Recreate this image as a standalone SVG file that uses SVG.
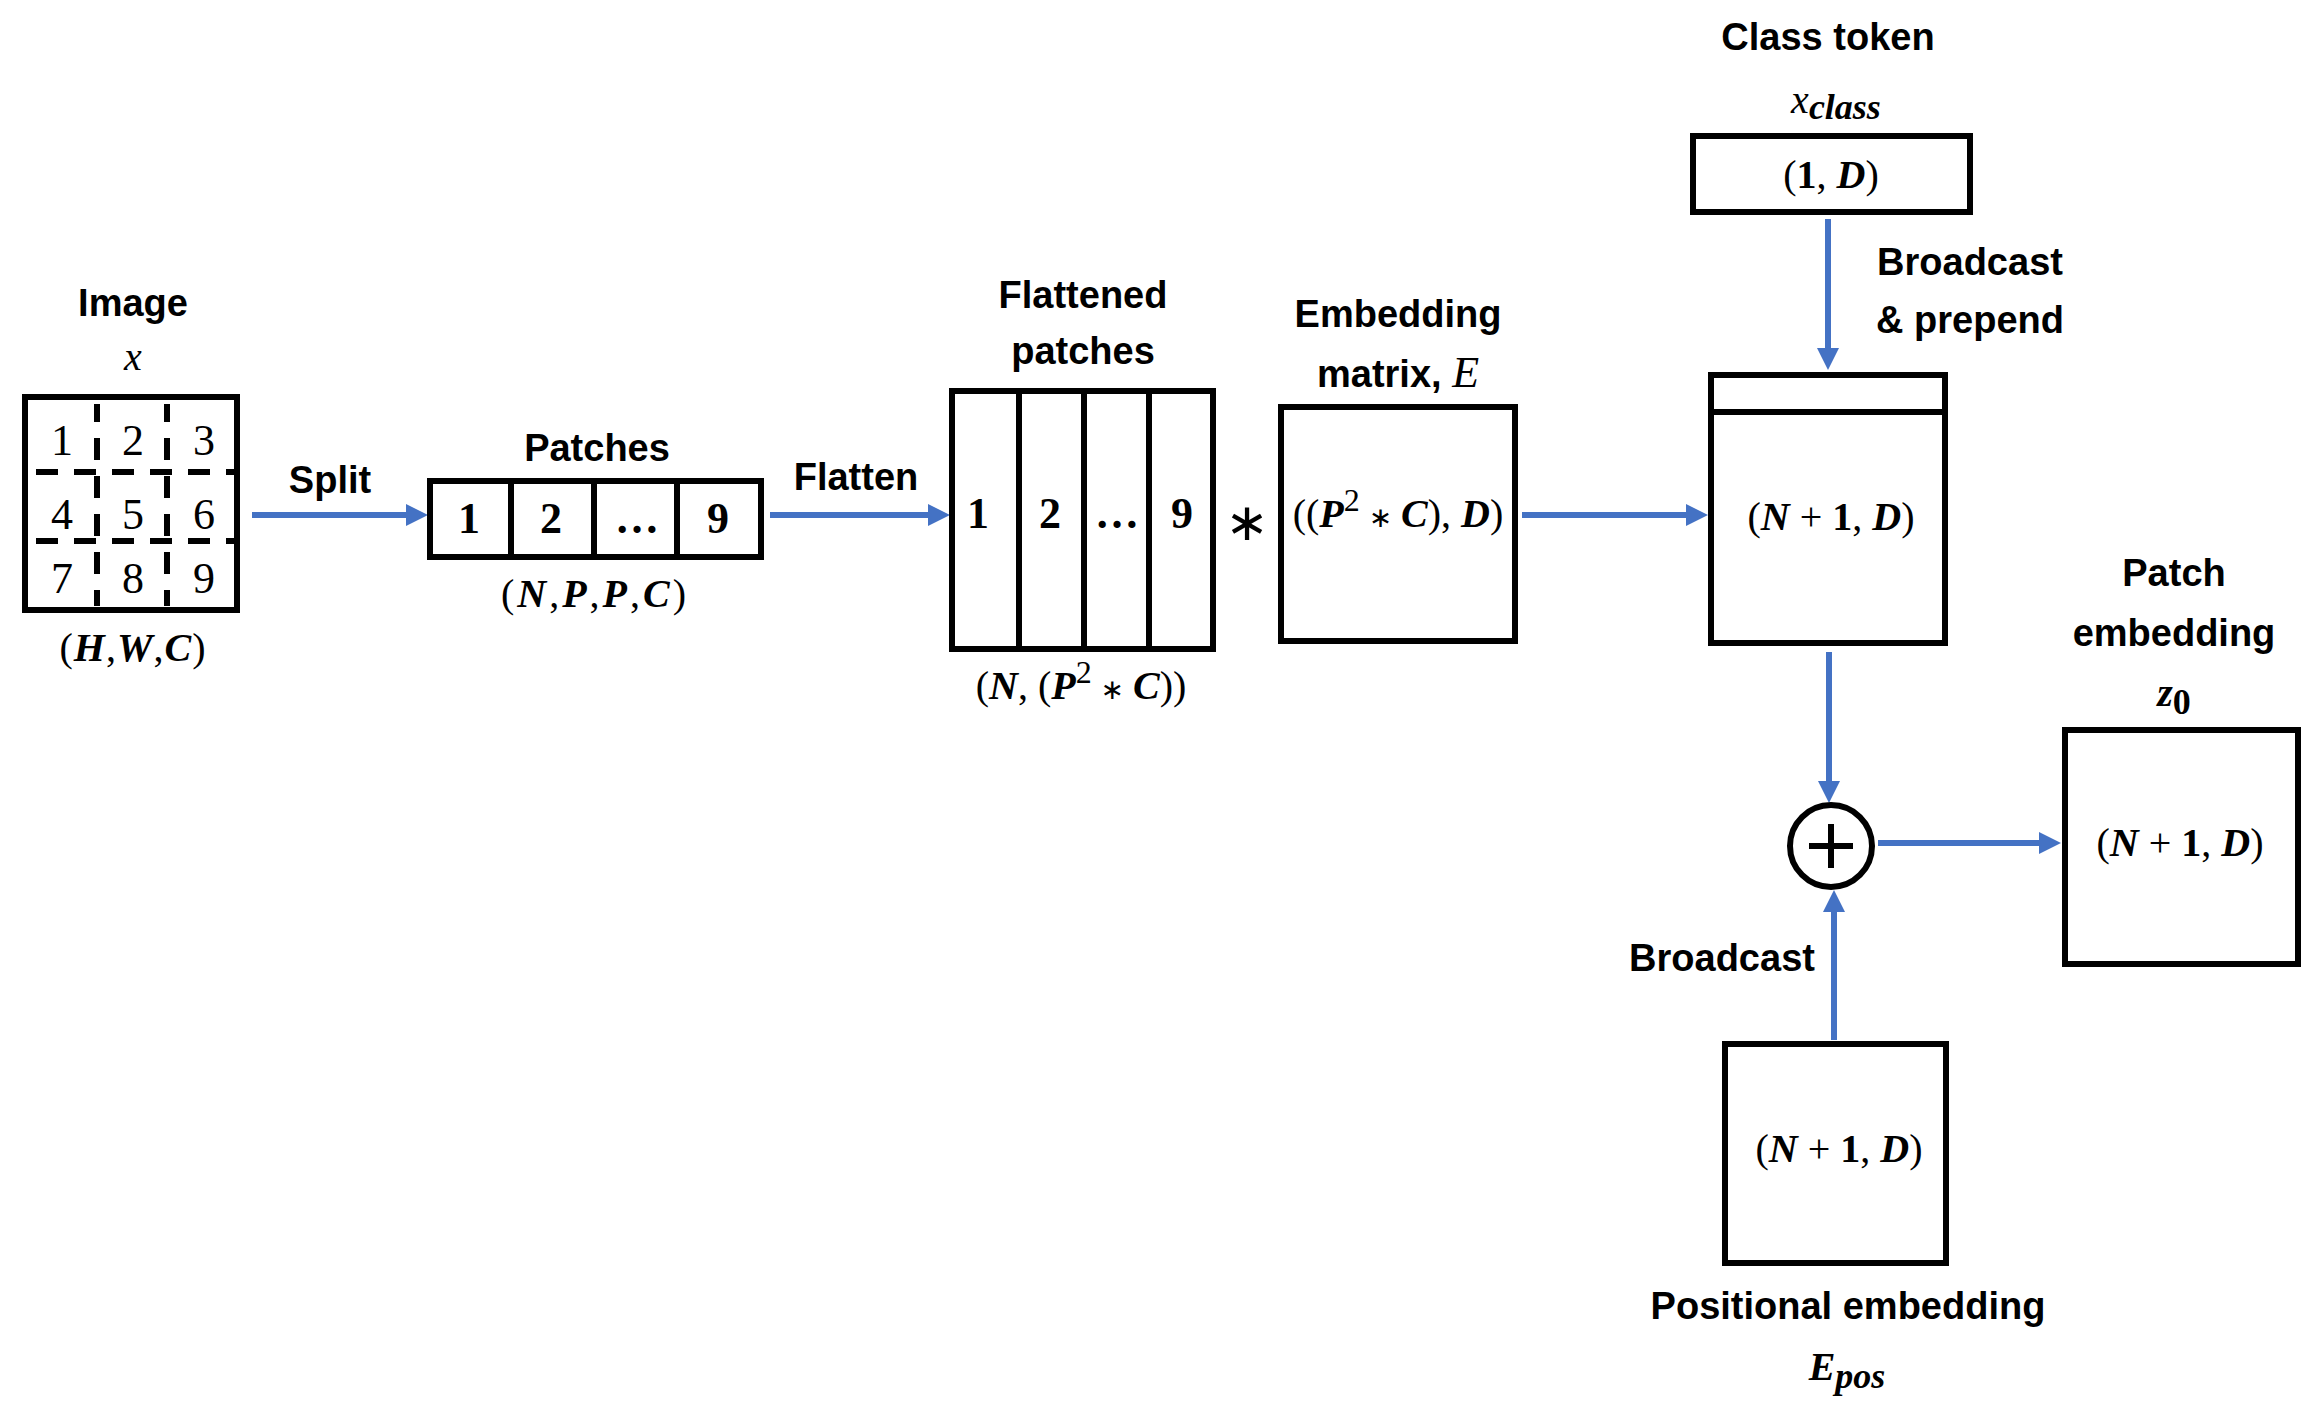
<svg xmlns="http://www.w3.org/2000/svg" width="2322" height="1417" viewBox="0 0 2322 1417">
<style>
.lbl{font-family:"Liberation Sans",Arial,sans-serif;font-weight:bold;font-size:38px;text-anchor:middle;fill:#000}
.m{font-family:"Liberation Serif","Times New Roman",serif;font-size:40px;text-anchor:middle;fill:#000}
.mi{font-style:italic;font-weight:bold}
.it{font-style:italic}
.b{font-weight:bold}
.dg{font-family:"Liberation Serif","Times New Roman",serif;font-size:44px;text-anchor:middle;fill:#000}
.box{fill:#fff;stroke:#000;stroke-width:6}
.ln{stroke:#000;stroke-width:6;fill:none}
.dash{stroke:#000;stroke-width:6;fill:none;stroke-dasharray:22 16}
.conn{stroke:#4472C4;stroke-width:6;fill:none;marker-end:url(#ah)}
</style>
<defs>
<marker id="ah" markerUnits="userSpaceOnUse" markerWidth="24" markerHeight="24" refX="12" refY="12" orient="auto">
<path d="M0,1 L22,12 L0,23 z" fill="#4472C4"/>
</marker>
</defs>
<rect width="2322" height="1417" fill="#fff"/>

<g id="connectors">
<line class="conn" x1="252" y1="515" x2="418" y2="515"/>
<line class="conn" x1="770" y1="515" x2="940" y2="515"/>
<line class="conn" x1="1522" y1="515" x2="1698" y2="515"/>
<line class="conn" x1="1828" y1="219" x2="1828" y2="360"/>
<line class="conn" x1="1829" y1="652" x2="1829" y2="793"/>
<line class="conn" x1="1878" y1="843" x2="2051" y2="843"/>
<line class="conn" x1="1834" y1="1040" x2="1834" y2="900"/>
</g>

<g id="image">
<text class="lbl" x="133" y="316">Image</text>
<text class="m it" x="133" y="370" font-size="48">x</text>
<rect class="box" x="25" y="397" width="212" height="213"/>
<line class="dash" x1="97" y1="404" x2="97" y2="606" stroke-dashoffset="4"/>
<line class="dash" x1="167" y1="404" x2="167" y2="606" stroke-dashoffset="4"/>
<line class="dash" x1="30" y1="472" x2="234" y2="472" stroke-dashoffset="-6"/>
<line class="dash" x1="30" y1="541" x2="234" y2="541" stroke-dashoffset="-6"/>
<text class="dg" x="62" y="455">1</text>
<text class="dg" x="133" y="455">2</text>
<text class="dg" x="204" y="455">3</text>
<text class="dg" x="62" y="529">4</text>
<text class="dg" x="133" y="529">5</text>
<text class="dg" x="204" y="529">6</text>
<text class="dg" x="62" y="593">7</text>
<text class="dg" x="133" y="593">8</text>
<text class="dg" x="204" y="593">9</text>
<text class="m" x="133" y="661" font-size="44" letter-spacing="1">(<tspan class="mi">H</tspan>,<tspan class="mi">W</tspan>,<tspan class="mi">C</tspan>)</text>
</g>

<text class="lbl" x="330" y="493">Split</text>

<g id="patches">
<text class="lbl" x="597" y="461">Patches</text>
<rect class="box" x="430" y="481" width="331" height="76"/>
<line class="ln" x1="511" y1="481" x2="511" y2="557"/>
<line class="ln" x1="594" y1="481" x2="594" y2="557"/>
<line class="ln" x1="677" y1="481" x2="677" y2="557"/>
<text class="dg b" x="469" y="533">1</text>
<text class="dg b" x="551" y="533">2</text>
<text class="dg b" x="637" y="533">…</text>
<text class="dg b" x="718" y="533">9</text>
<text class="m" x="595" y="607" font-size="42" letter-spacing="3">(<tspan class="mi">N</tspan>,<tspan class="mi">P</tspan>,<tspan class="mi">P</tspan>,<tspan class="mi">C</tspan>)</text>
</g>

<text class="lbl" x="856" y="490">Flatten</text>

<g id="flattened">
<text class="lbl" x="1083" y="308">Flattened</text>
<text class="lbl" x="1083" y="364">patches</text>
<rect class="box" x="952" y="391" width="261" height="258"/>
<line class="ln" x1="1019" y1="391" x2="1019" y2="649"/>
<line class="ln" x1="1084" y1="391" x2="1084" y2="649"/>
<line class="ln" x1="1149" y1="391" x2="1149" y2="649"/>
<text class="dg b" x="978" y="528">1</text>
<text class="dg b" x="1050" y="528">2</text>
<text class="dg b" x="1117" y="528">…</text>
<text class="dg b" x="1182" y="528">9</text>
<text class="m" x="1081" y="699" font-size="42">(<tspan class="mi">N</tspan>, (<tspan class="mi">P</tspan><tspan dy="-16" font-size="32">2</tspan><tspan dy="16" font-family="'DejaVu Sans',sans-serif" font-size="28"> ∗ </tspan><tspan class="mi">C</tspan>))</text>
</g>

<text x="1247" y="540" font-family="'DejaVu Sans',sans-serif" font-size="52" text-anchor="middle">∗</text>

<g id="embedding">
<text class="lbl" x="1398" y="327">Embedding</text>
<text class="lbl" x="1398" y="387">matrix, <tspan font-family="'Liberation Serif',serif" font-style="italic" font-weight="normal" font-size="44">E</tspan></text>
<rect class="box" x="1281" y="407" width="234" height="234"/>
<text class="m" x="1398" y="527" font-size="42">((<tspan class="mi">P</tspan><tspan dy="-16" font-size="32">2</tspan><tspan dy="16" font-family="'DejaVu Sans',sans-serif" font-size="28"> ∗ </tspan><tspan class="mi">C</tspan>), <tspan class="mi">D</tspan>)</text>
</g>

<g id="class-token">
<text class="lbl" x="1828" y="50">Class token</text>
<text class="m" x="1836" y="113" font-size="50"><tspan class="it">x</tspan><tspan dy="6" font-size="36" class="mi">class</tspan></text>
<rect class="box" x="1693" y="136" width="277" height="76"/>
<text class="m" x="1831" y="188" font-size="42">(<tspan class="b">1</tspan>, <tspan class="mi">D</tspan>)</text>
</g>

<text class="lbl" x="1970" y="275">Broadcast</text>
<text class="lbl" x="1970" y="333">&amp; prepend</text>

<g id="combined">
<rect class="box" x="1711" y="375" width="234" height="268"/>
<line class="ln" x1="1711" y1="412" x2="1945" y2="412"/>
<text class="m" x="1831" y="530" font-size="43">(<tspan class="mi">N</tspan> + <tspan class="b">1</tspan>, <tspan class="mi">D</tspan>)</text>
</g>

<g id="add">
<circle cx="1831" cy="846" r="41" fill="#fff" stroke="#000" stroke-width="6"/>
<line class="ln" x1="1809" y1="846" x2="1853" y2="846" stroke-width="4"/>
<line class="ln" x1="1831" y1="824" x2="1831" y2="868" stroke-width="4"/>
</g>

<text class="lbl" x="1722" y="971">Broadcast</text>

<g id="patch-embedding">
<text class="lbl" x="2174" y="586">Patch</text>
<text class="lbl" x="2174" y="646">embedding</text>
<text class="m" x="2174" y="706" font-size="48"><tspan class="mi">z</tspan><tspan dy="8" font-size="36" class="b">0</tspan></text>
<rect class="box" x="2065" y="730" width="233" height="234"/>
<text class="m" x="2180" y="856" font-size="43">(<tspan class="mi">N</tspan> + <tspan class="b">1</tspan>, <tspan class="mi">D</tspan>)</text>
</g>

<g id="positional">
<rect class="box" x="1725" y="1044" width="221" height="219"/>
<text class="m" x="1839" y="1162" font-size="43">(<tspan class="mi">N</tspan> + <tspan class="b">1</tspan>, <tspan class="mi">D</tspan>)</text>
<text class="lbl" x="1848" y="1319">Positional embedding</text>
<text class="m" x="1847" y="1380" font-size="50"><tspan class="mi">E</tspan><tspan dy="8" font-size="36" class="mi">pos</tspan></text>
</g>
</svg>
